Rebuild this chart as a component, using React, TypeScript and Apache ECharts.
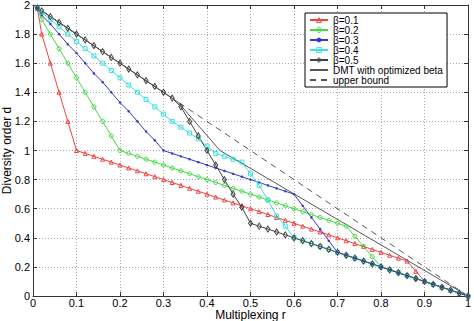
import React, { useEffect, useRef } from "react";
import * as echarts from "echarts";

const FONT = "'Liberation Sans', Arial, Helvetica, sans-serif";

// multiplexing gain r (shared by the five beta curves)
const rValues = [
  0.01, 0.02, 0.04, 0.06, 0.08, 0.1, 0.12, 0.14, 0.16, 0.18, 0.2, 0.22, 0.24, 0.26, 0.28, 0.3,
  0.32, 0.34, 0.36, 0.38, 0.4, 0.42, 0.44, 0.46, 0.48, 0.5, 0.52, 0.54, 0.56, 0.58, 0.6, 0.62,
  0.64, 0.66, 0.68, 0.7, 0.72, 0.74, 0.76, 0.78, 0.8, 0.82, 0.84, 0.86, 0.88, 0.9, 0.92, 0.94,
  0.96, 0.98, 1.0,
];

const beta01 = [
  1.98, 1.8, 1.6, 1.4, 1.2, 1.0, 0.98, 0.96, 0.94, 0.92, 0.9, 0.88, 0.86, 0.84, 0.82, 0.8,
  0.78, 0.76, 0.74, 0.72, 0.7, 0.68, 0.66, 0.64, 0.62, 0.6, 0.58, 0.56, 0.54, 0.52, 0.5, 0.48,
  0.46, 0.44, 0.42, 0.4, 0.38, 0.36, 0.34, 0.32, 0.3, 0.28, 0.26, 0.24, 0.17, 0.1, 0.08, 0.06,
  0.04, 0.02, 0.0,
];
const beta02 = [
  1.98, 1.9, 1.8, 1.7, 1.6, 1.5, 1.4, 1.3, 1.2, 1.1, 1.0, 0.98, 0.96, 0.94, 0.92, 0.9,
  0.88, 0.86, 0.84, 0.82, 0.8, 0.78, 0.76, 0.74, 0.72, 0.7, 0.68, 0.66, 0.64, 0.62, 0.6, 0.58,
  0.56, 0.54, 0.52, 0.5, 0.48, 0.41, 0.34, 0.27, 0.2, 0.18, 0.16, 0.14, 0.12, 0.1, 0.08, 0.06,
  0.04, 0.02, 0.0,
];
const beta03 = [
  1.98, 1.93, 1.87, 1.8, 1.73, 1.67, 1.6, 1.53, 1.47, 1.4, 1.33, 1.27, 1.2, 1.13, 1.07, 1.0,
  0.98, 0.96, 0.94, 0.92, 0.9, 0.88, 0.86, 0.84, 0.82, 0.8, 0.78, 0.76, 0.74, 0.72, 0.7, 0.62,
  0.54, 0.46, 0.38, 0.3, 0.28, 0.26, 0.24, 0.22, 0.2, 0.18, 0.16, 0.14, 0.12, 0.1, 0.08, 0.06,
  0.04, 0.02, 0.0,
];
const beta04 = [
  1.98, 1.95, 1.9, 1.85, 1.8, 1.75, 1.7, 1.65, 1.6, 1.55, 1.5, 1.45, 1.4, 1.35, 1.3, 1.25,
  1.2, 1.16, 1.12, 1.08, 1.03, 0.98, 0.96, 0.94, 0.92, 0.84, 0.76, 0.66, 0.55, 0.48, 0.4, 0.38,
  0.36, 0.34, 0.32, 0.3, 0.28, 0.26, 0.24, 0.22, 0.2, 0.18, 0.16, 0.14, 0.12, 0.1, 0.08, 0.06,
  0.04, 0.02, 0.0,
];
const beta05 = [
  1.98, 1.96, 1.92, 1.88, 1.84, 1.8, 1.76, 1.72, 1.68, 1.64, 1.6, 1.56, 1.52, 1.48, 1.44, 1.4,
  1.36, 1.3, 1.2, 1.1, 1.0, 0.9, 0.8, 0.7, 0.61, 0.5, 0.48, 0.46, 0.44, 0.42, 0.4, 0.38,
  0.36, 0.34, 0.32, 0.3, 0.28, 0.26, 0.24, 0.22, 0.2, 0.18, 0.16, 0.14, 0.12, 0.1, 0.08, 0.06,
  0.04, 0.02, 0.0,
];

const optR = [0.01, 0.333, 0.43, 1.0];
const optD = [1.98, 1.333, 1.0, 0.0];
const boundR = [0, 1];
const boundD = [2, 0];

const xTicks = { min: 0, max: 1, interval: 0.1 };
const yTicks = { min: 0, max: 2, interval: 0.2 };

const zip = (xs: number[], ys: number[]) => xs.map((x, i) => [x, ys[i]]);

const AXIS_COLOR = "#333";
const C1 = "#ee4444";
const C2 = "#44d844";
const C3 = "#3838c8";
const C4 = "#3ee0e0";
const C5 = "#404040";
const CG = "#555";

function betaSeries(name: string, d: number[], color: string, symbol: string, size: any, filled = false) {
  return {
    type: "line",
    name,
    data: zip(rValues, d),
    symbol,
    symbolSize: size,
    showAllSymbol: true,
    silent: true,
    lineStyle: { color, width: 1 },
    itemStyle: filled
      ? { color, borderColor: color, borderWidth: 0 }
      : { color: "rgba(255,255,255,0)", borderColor: color, borderWidth: 1 },
    emphasis: { disabled: true },
  };
}

const hollow = (c: string) => ({ color: "rgba(255,255,255,0)", borderColor: c, borderWidth: 1 });

export default function App() {
  const ref = useRef<HTMLDivElement>(null);
  useEffect(() => {
    if (!ref.current) return;
    const chart = echarts.init(ref.current, undefined, { renderer: "svg" });
    const baseX = {
      type: "value",
      ...xTicks,
      axisLine: { show: true, onZero: false, lineStyle: { color: AXIS_COLOR, width: 1 } },
      axisTick: { show: true, inside: true, length: 4, lineStyle: { color: AXIS_COLOR } },
    };
    const baseY = {
      type: "value",
      ...yTicks,
      axisLine: { show: true, onZero: false, lineStyle: { color: AXIS_COLOR, width: 1 } },
      axisTick: { show: true, inside: true, length: 4, lineStyle: { color: AXIS_COLOR } },
    };
    const option: any = {
      animation: false,
      textStyle: { fontFamily: FONT },
      grid: { left: 33, right: 6, top: 5, bottom: 25, containLabel: false, outerBoundsMode: "none" },
      legend: {
        orient: "vertical",
        left: 305,
        top: 13,
        padding: [2, 4, 2, 4],
        itemGap: 0,
        itemWidth: 18,
        itemHeight: 6,
        backgroundColor: "#fff",
        borderColor: "#000",
        borderWidth: 1,
        borderRadius: 0,
        selectedMode: false,
        textStyle: { fontSize: 10, color: "#000", lineHeight: 10, fontFamily: FONT },
        data: [
          { name: "β=0.1", itemStyle: hollow(C1) },
          { name: "β=0.2", itemStyle: hollow(C2) },
          { name: "β=0.3", itemStyle: { color: C3, borderWidth: 0 } },
          { name: "β=0.4", itemStyle: hollow(C4) },
          { name: "β=0.5", itemStyle: hollow(C5) },
          { name: "DMT with optimized beta", itemStyle: { opacity: 0 }, lineStyle: { color: CG } },
          { name: "upper bound", itemStyle: { opacity: 0 }, lineStyle: { color: CG } },
        ],
      },
      xAxis: [
        {
          ...baseX,
          position: "bottom",
          name: "Multiplexing r",
          nameLocation: "middle",
          nameGap: 13,
          nameMoveOverlap: false,
          nameTextStyle: { fontSize: 12, lineHeight: 12, color: "#000", fontFamily: FONT },
          axisLabel: { fontSize: 11, lineHeight: 11, color: "#000", margin: 1, fontFamily: FONT },
          splitLine: { show: true, lineStyle: { type: [1, 2], color: "#aaa", width: 1 } },
        },
        {
          ...baseX,
          position: "top",
          axisLabel: { show: false },
          splitLine: { show: false },
        },
      ],
      yAxis: [
        {
          ...baseY,
          position: "left",
          name: "Diversity order d",
          nameLocation: "middle",
          nameGap: 20,
          nameMoveOverlap: false,
          nameTextStyle: { fontSize: 12, color: "#000", fontFamily: FONT },
          axisLabel: { fontSize: 11, color: "#000", margin: 3, fontFamily: FONT },
          splitLine: { show: true, lineStyle: { type: [1, 2], color: "#aaa", width: 1 } },
        },
        {
          ...baseY,
          position: "right",
          axisLabel: { show: false },
          splitLine: { show: false },
        },
      ],
      series: [
        betaSeries("β=0.1", beta01, C1, "triangle", 4),
        betaSeries("β=0.2", beta02, C2, "circle", 4),
        betaSeries("β=0.3", beta03, C3, "circle", 2.5, true),
        betaSeries("β=0.4", beta04, C4, "rect", 4),
        betaSeries("β=0.5", beta05, C5, "diamond", [4, 6]),
        {
          type: "line",
          name: "DMT with optimized beta",
          data: zip(optR, optD),
          symbol: "none",
          silent: true,
          lineStyle: { color: CG, width: 1 },
          itemStyle: { color: CG },
        },
        {
          type: "line",
          name: "upper bound",
          data: zip(boundR, boundD),
          symbol: "none",
          silent: true,
          lineStyle: { color: CG, width: 1, type: [6, 5] },
          itemStyle: { color: CG },
        },
      ],
    };
    chart.setOption(option);
    return () => chart.dispose();
  }, []);
  return (
    <div
      ref={ref}
      style={{ position: "fixed", left: 0, top: 0, width: 474, height: 321, background: "#fff" }}
    />
  );
}
